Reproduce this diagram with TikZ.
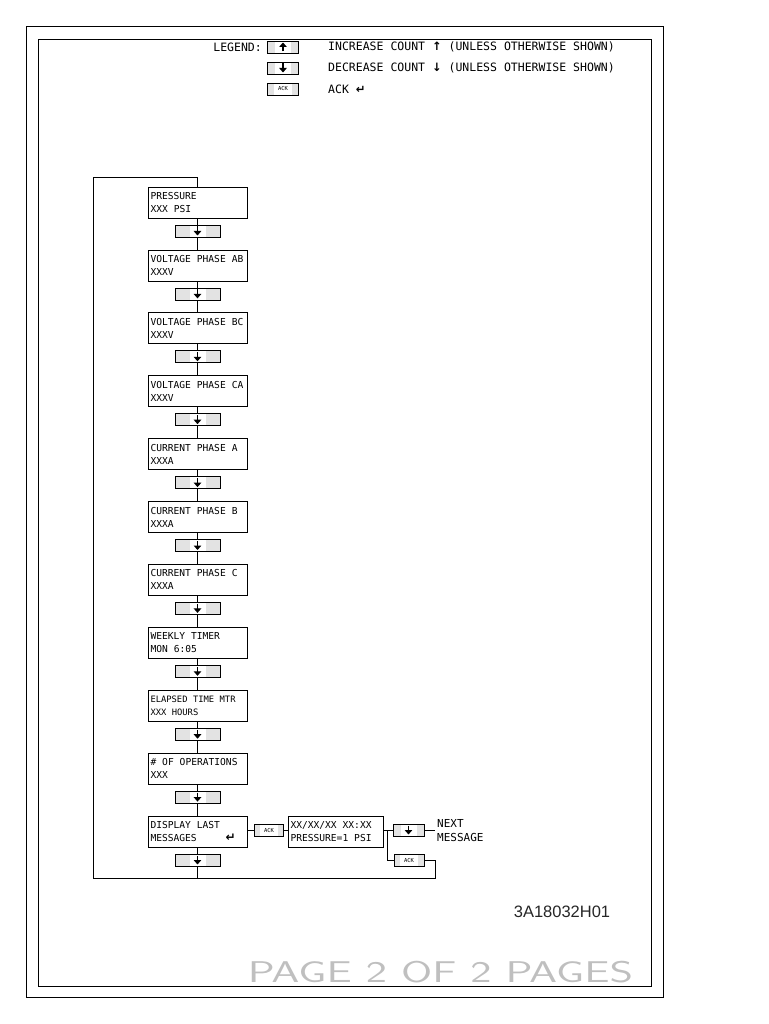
\documentclass[tikz,border=0pt]{standalone}
\usepackage{fontspec}
\newfontfamily\cad{DejaVu Sans Mono}
\newfontfamily\sym{DejaVu Sans}
\newfontfamily\idfont{Liberation Sans}
\newcommand\ws{\hspace{0.62em}}
\usetikzlibrary{arrows.meta}
\tikzset{
  scr/.style={draw, line width=0.8pt, minimum width=99pt, minimum height=31pt, inner sep=2pt,
    align=left, text width=94pt, font=\cad\fontsize{9.6}{13}\selectfont},
  keybase/.style={draw, line width=0.7pt, fill=gray!22, minimum height=12pt, inner sep=0pt},
  dnkey/.style={keybase, minimum width=#1,
    path picture={\fill[white] ([xshift=-8pt]path picture bounding box.south) rectangle ([xshift=8pt]path picture bounding box.north);
      \draw[line width=1.3pt,-{Triangle[width=7.5pt,length=4.5pt]}] ([yshift=4.5pt]path picture bounding box.center) -- ([yshift=-4.5pt]path picture bounding box.center);}},
  dnkey/.default=45pt,
  upkey/.style={keybase, minimum width=31pt,
    path picture={\fill[white] ([xshift=-8pt]path picture bounding box.south) rectangle ([xshift=8pt]path picture bounding box.north);
      \draw[line width=1.3pt,-{Triangle[width=7.5pt,length=4.5pt]}] ([yshift=-4.5pt]path picture bounding box.center) -- ([yshift=4.5pt]path picture bounding box.center);}},
  ackkey/.style={keybase, minimum width=#1, font=\cad\fontsize{5.5}{6}\selectfont,
    path picture={\fill[white] ([xshift=-9pt]path picture bounding box.south) rectangle ([xshift=9pt]path picture bounding box.north);}},
  ackkey/.default=29pt,
  conn/.style={line width=0.8pt},
  legtxt/.style={font=\cad\fontsize{11.5}{12}\selectfont, anchor=west, inner sep=0pt},
}
\begin{document}
\begin{tikzpicture}[x=1pt,y=-1pt]
\useasboundingbox (0,0) rectangle (768,1024);
% frames
\draw[line width=1pt] (26,27) rectangle (663,997);
\draw[line width=1pt] (38,40) rectangle (651,986);

% legend
\node[legtxt, anchor=east] (leg) at (262,47) {LEGEND:};
\node[upkey] (lk1) at (283,47) {};
\node[dnkey=31pt] (lk2) at (283,68) {};
\node[ackkey=31pt] (lk3) at (283,89) {ACK};
\node[legtxt] (lt1) at (328,47) {INCREASE COUNT {\sym\bfseries ↑} (UNLESS OTHERWISE SHOWN)};
\node[legtxt] (lt2) at (328,68) {DECREASE COUNT {\sym\bfseries ↓} (UNLESS OTHERWISE SHOWN)};
\node[legtxt] (lt3) at (328,89) {ACK {\sym\bfseries ↵}};

% main column
\node[scr] (p0) at (197.5,202.5) {PRESSURE\\XXX\ws PSI};
\node[dnkey] (k0) at (197.5,231) {};
\node[scr] (p1) at (197.5,265.4) {VOLTAGE\ws PHASE\ws AB\\XXXV};
\node[dnkey] (k1) at (197.5,293.9) {};
\node[scr] (p2) at (197.5,328.3) {VOLTAGE\ws PHASE\ws BC\\XXXV};
\node[dnkey] (k2) at (197.5,356.8) {};
\node[scr] (p3) at (197.5,391.2) {VOLTAGE\ws PHASE\ws CA\\XXXV};
\node[dnkey] (k3) at (197.5,419.7) {};
\node[scr] (p4) at (197.5,454.1) {CURRENT\ws PHASE\ws A\\XXXA};
\node[dnkey] (k4) at (197.5,482.6) {};
\node[scr] (p5) at (197.5,517) {CURRENT\ws PHASE\ws B\\XXXA};
\node[dnkey] (k5) at (197.5,545.5) {};
\node[scr] (p6) at (197.5,579.9) {CURRENT\ws PHASE\ws C\\XXXA};
\node[dnkey] (k6) at (197.5,608.4) {};
\node[scr] (p7) at (197.5,642.8) {WEEKLY\ws TIMER\\MON\ws 6:05};
\node[dnkey] (k7) at (197.5,671.3) {};
\node[scr, font=\cad\fontsize{8.8}{13}\selectfont] (p8) at (197.5,705.7) {ELAPSED\ws TIME\ws MTR\\XXX\ws HOURS};
\node[dnkey] (k8) at (197.5,734.2) {};
\node[scr] (p9) at (197.5,768.6) {\#\ws OF\ws OPERATIONS\\XXX};
\node[dnkey] (k9) at (197.5,797.1) {};
\node[scr] (p10) at (197.5,831.5) {DISPLAY\ws LAST\\MESSAGES\hspace{29pt}{\sym\bfseries\fontsize{12}{13}\selectfont ↵}};
\node[dnkey] (k10) at (197.5,860) {};

\foreach \i [evaluate=\i as \j using int(\i+1)] in {0,...,9} {
  \draw[conn] (p\i) -- (k\i);
  \draw[conn] (k\i) -- (p\j);
}
\draw[conn] (p10) -- (k10);

% side branch
\node[ackkey] (a1) at (269,830) {ACK};
\node[scr, minimum width=95pt, text width=90pt] (mx) at (335.5,831.5) {XX/XX/XX\ws XX:XX\\PRESSURE=1\ws PSI};
\node[dnkey=31pt] (nk) at (408.5,830) {};
\node[ackkey=30pt] (a2) at (409,860) {ACK};
\node[font=\cad\fontsize{11}{14}\selectfont, align=left, anchor=west, inner sep=0pt] (nm) at (437,831) {NEXT\\MESSAGE};

\coordinate (br) at (387,830);
\coordinate (ne) at (435,830);
\coordinate (c1) at (435,860);
\coordinate (c2) at (435,878);
\coordinate (c3) at (93,878);
\coordinate (c4) at (93,177);
\coordinate (c5) at (197.5,177);
\coordinate (c6) at (197.5,878);

\draw[conn] (p10.east |- a1) -- (a1);
\draw[conn] (a1) -- (mx.west |- a1);
\draw[conn] (mx.east |- nk) -- (nk);
\draw[conn] (nk) -- (ne);
\draw[conn] (br) -- (br |- a2) -- (a2);
\draw[conn] (a2) -- (c1) -- (c2) -- (c3) -- (c4) -- (c5) -- (p0);
\draw[conn] (k10) -- (c6);

% footer
\node[font=\idfont\fontsize{16.5}{16.5}\selectfont, text=black!85, inner sep=0pt] (id) at (562,912) {3A18032H01};
\node[font=\sffamily\fontsize{30}{30}\selectfont\addfontfeature{LetterSpace=18}, text=gray!50, inner sep=0pt, xscale=1.5] (pg) at (440.5,972) {PAGE 2 OF 2 PAGES};
\end{tikzpicture}
\end{document}
